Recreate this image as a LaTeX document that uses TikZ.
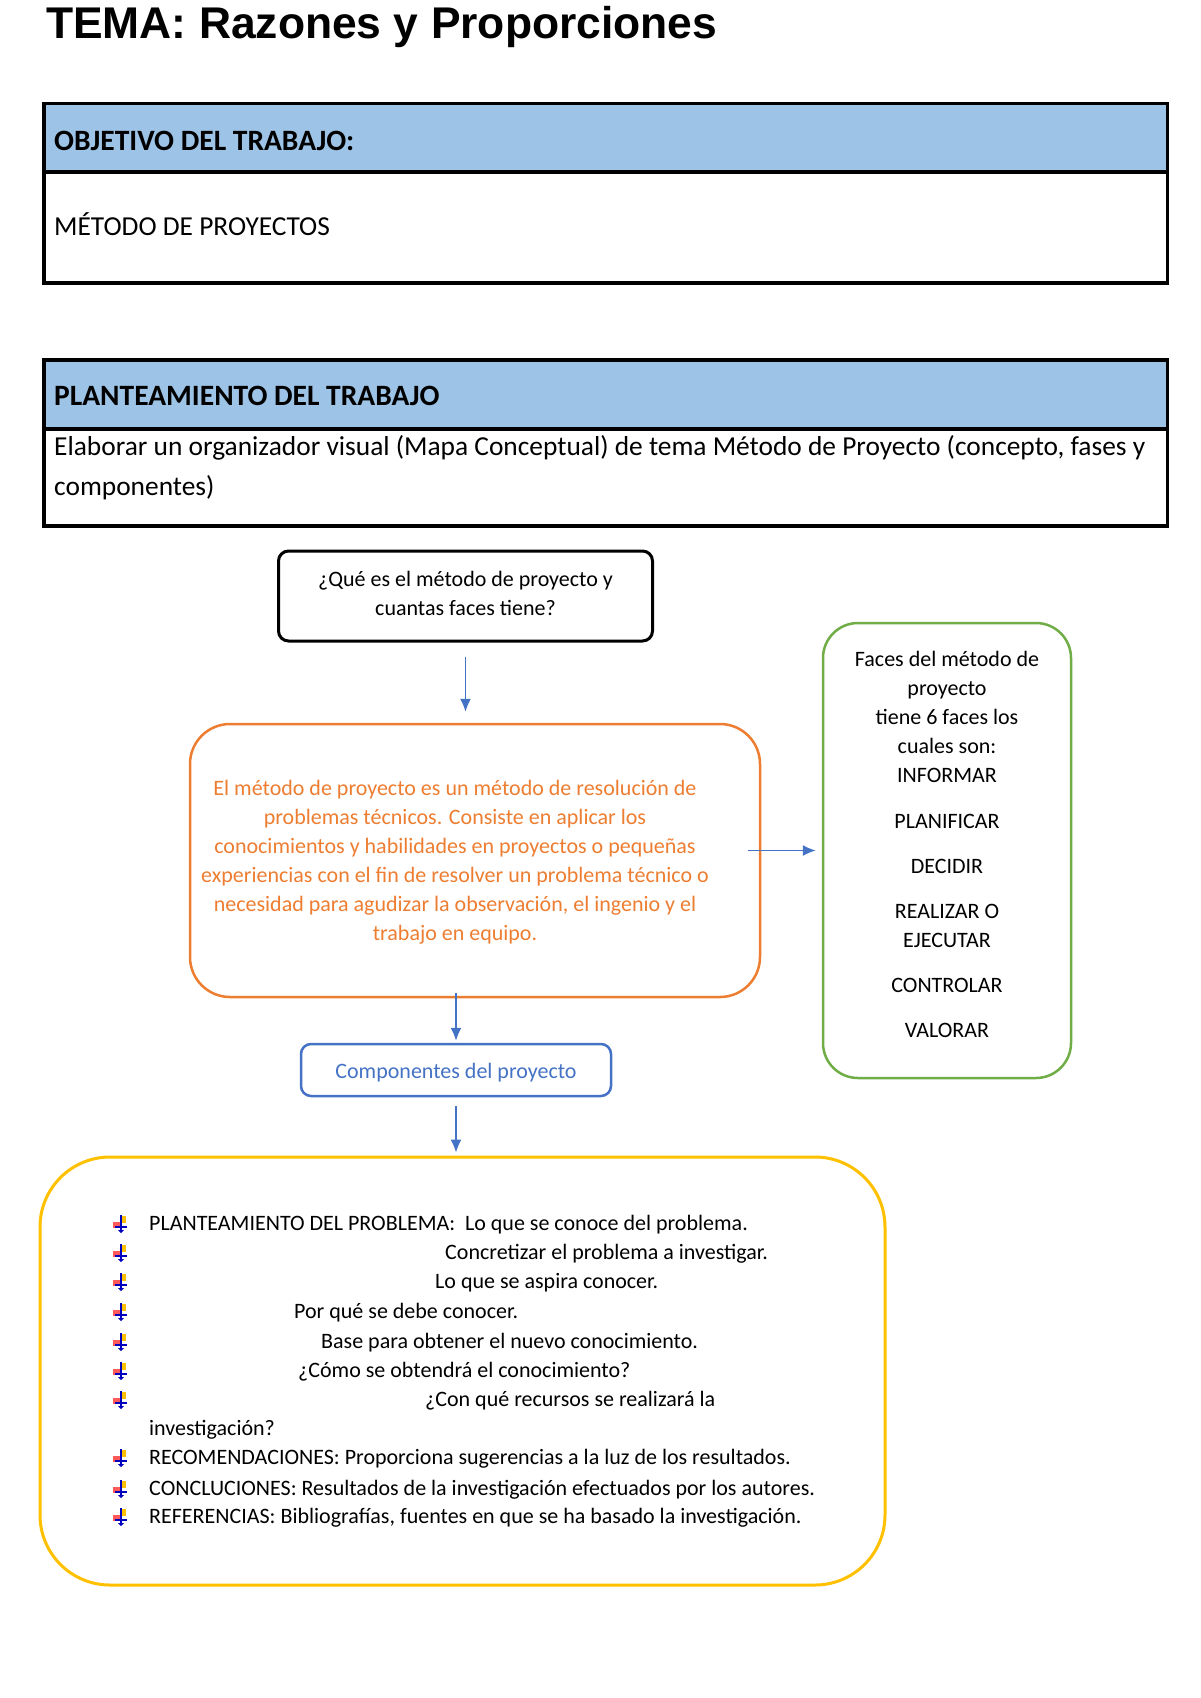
\documentclass[tikz,border=0pt]{standalone}
\usepackage{fontspec}
\setmainfont{Carlito}
\newfontfamily\titlefont{Liberation Sans}
\usetikzlibrary{arrows.meta,positioning}

\definecolor{azulcab}{HTML}{9DC3E6}
\definecolor{naranja}{HTML}{ED7D31}
\definecolor{verde}{HTML}{70AD47}
\definecolor{azul}{HTML}{4472C4}
\definecolor{amarillo}{HTML}{FFC000}

\tikzset{
  texto/.style={font=\fontsize{22}{29}\selectfont},
  textocab/.style={anchor=base west, inner sep=0pt, font=\bfseries\fontsize{29.5}{34}\selectfont},
  textofila/.style={anchor=base west, inner sep=0pt, font=\fontsize{27.4}{32}\selectfont},
  caja/.style={draw, rounded corners=10pt, line width=2.5pt, texto, align=center, inner sep=0pt},
  flecha/.style={azul, line width=1.4pt, -{Latex[length=13pt,width=11pt]}},
  pics/flechita/.style={code={
    \fill[amarillo] (-0.5,-14) rectangle (5,-7);
    \fill[red!65] (-8,-8) rectangle (-1,-2);
    \fill[blue!75!black] (-6,-4) rectangle (6,-2);
    \fill[blue!75!black] (-1,-15) rectangle (1,1);
    \fill[blue!75!black] (-3,0) -- (3,0) -- (0,3) -- cycle;
  }}
}

\begin{document}
\begin{tikzpicture}[x=1pt,y=-1pt]
    \useasboundingbox (0,0) rectangle (1200,1698);
    %titulo
    \node[anchor=base west, inner sep=0pt, font=\titlefont\bfseries\fontsize{44.4}{52}\selectfont] (tema) at (46,38) {TEMA: Razones y Proporciones};
    %objetivo
    \fill[azulcab] (44,103.5) rectangle (1167.5,172);
    \draw[black, line width=3.3pt] (44,103.5) rectangle (1167.5,283);
    \draw[black, line width=3.3pt] (44,172) -- (1167.5,172);
    \node[textocab] (objetivo) at (54,150) {OBJETIVO DEL TRABAJO:};
    \node[textofila] (metodo) at (54,235) {MÉTODO DE PROYECTOS};
    %planteamiento
    \fill[azulcab] (44,360) rectangle (1167.5,429);
    \draw[black, line width=3.3pt] (44,360) rectangle (1167.5,526);
    \draw[black, line width=3.3pt] (44,429) -- (1167.5,429);
    \node[textocab] (planteamiento) at (54,405) {PLANTEAMIENTO DEL TRABAJO};
    \node[textofila] (elaborar) at (54,455) {Elaborar un organizador visual (Mapa Conceptual) de tema Método de Proyecto (concepto, fases y};
    \node[textofila] (elaborar2) at (54,495) {componentes)};
    %cajas del mapa
    \node[caja, black, line width=3pt, minimum width=374pt, minimum height=90pt] (pregunta) at (465.5,596) {};
    \node[texto, align=center, inner sep=0pt] (preguntatxt) at (465.5,593)
        {¿Qué es el método de proyecto y\\cuantas faces tiene?};
    \node[caja, naranja, rounded corners=40pt, minimum width=570pt, minimum height=273pt] (concepto) at (475,860.5) {};
    \node[texto, naranja, align=center, inner sep=0pt] (conceptotxt) at (455,862)
        {El método de proyecto es un método de resolución de\\
         problemas técnicos. Consiste en aplicar los\\
         conocimientos y habilidades en proyectos o pequeñas\\
         experiencias con el fin de resolver un problema técnico o\\
         necesidad para agudizar la observación, el ingenio y el\\
         trabajo en equipo.};
    \node[caja, verde, rounded corners=35pt, minimum width=248pt, minimum height=455pt] (fases) at (947,850.5) {};
    \node[texto, align=center, inner sep=0pt] (fasestxt) at (947,844)
        {Faces del método de\\proyecto\\tiene 6 faces los\\cuales son:\\INFORMAR\\[17pt]
         PLANIFICAR\\[16pt]DECIDIR\\[16pt]REALIZAR O\\EJECUTAR\\[16pt]CONTROLAR\\[16pt]VALORAR};
    \node[caja, azul, minimum width=310pt, minimum height=52pt] (componentes) at (456,1070) {};
    \node[texto, azul, inner sep=0pt] (componentestxt) at (456,1073) {Componentes del proyecto};
    \node[caja, amarillo, line width=3pt, rounded corners=70pt, minimum width=845pt, minimum height=428pt] (lista) at (462.5,1371) {};
    %flechas
    \draw[flecha, shorten <=14pt, shorten >=11pt] (pregunta.south) -- (pregunta.south |- concepto.north);
    \draw[flecha, shorten <=-13pt, shorten >=6pt] (concepto.east |- fases.west) -- (fases.west);
    \draw[flecha, shorten <=-5pt, shorten >=2pt] (componentes.north |- concepto.south) -- (componentes.north);
    \draw[flecha, shorten <=9pt, shorten >=3pt] (componentes.south) -- (componentes.south |- lista.north);
    %vinetas
    \foreach \y in {1230,1259,1288,1318,1348,1377,1406,1464,1495,1523}
        \pic at (121,\y) {flechita};
    %componentes
    \foreach \y/\x/\t [count=\i] in {
        1230/149/{PLANTEAMIENTO DEL PROBLEMA:\ \ Lo que se conoce del problema.},
        1259/445/{Concretizar el problema a investigar.},
        1288/435/{Lo que se aspira conocer.},
        1318/294/{Por qué se debe conocer.},
        1348/321/{Base para obtener el nuevo conocimiento.},
        1377/298/{¿Cómo se obtendrá el conocimiento?},
        1406/425/{¿Con qué recursos se realizará la},
        1435/149/{investigación?},
        1464/149/{RECOMENDACIONES: Proporciona sugerencias a la luz de los resultados.},
        1495/149/{CONCLUCIONES: Resultados de la investigación efectuados por los autores.},
        1523/149/{REFERENCIAS: Bibliografías, fuentes en que se ha basado la investigación.}}
        \node[texto, anchor=base west, inner sep=0pt] (item\i) at (\x,\y) {\t};
\end{tikzpicture}
\end{document}
